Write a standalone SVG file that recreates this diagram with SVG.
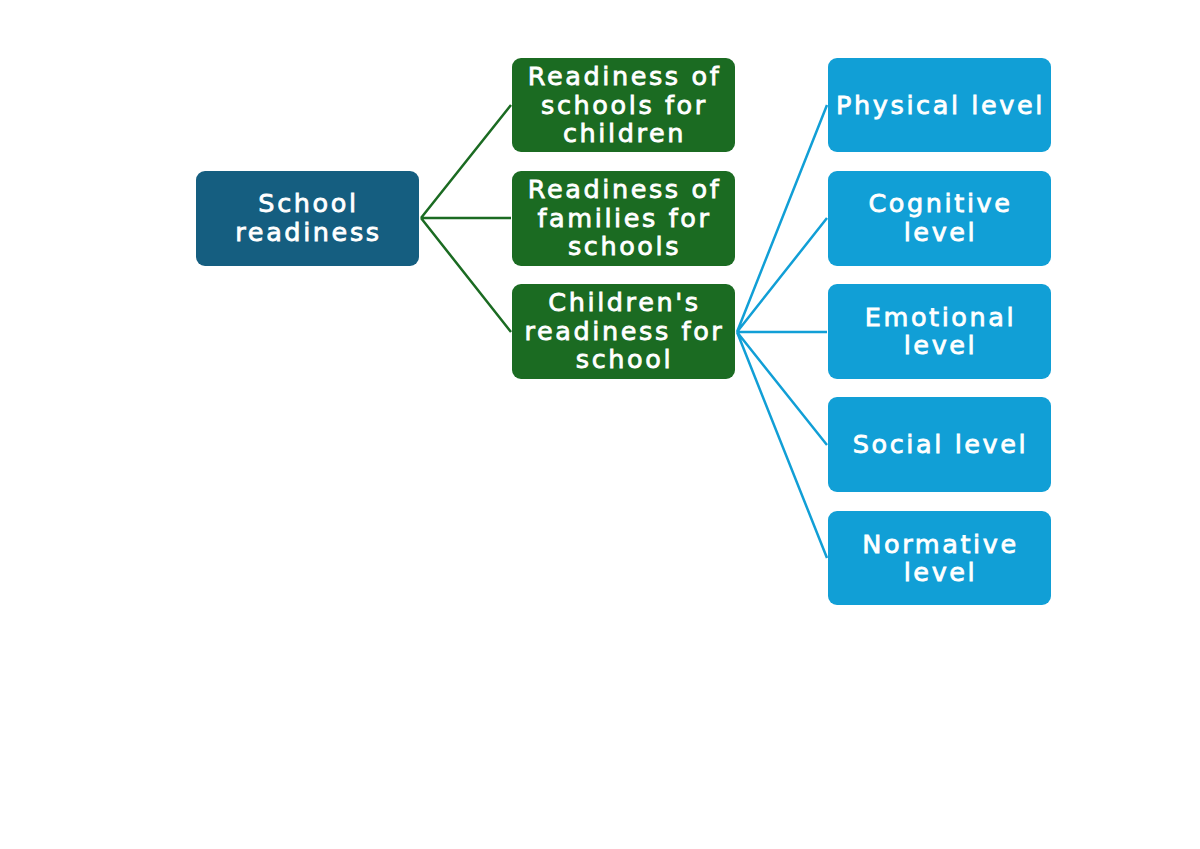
<svg xmlns="http://www.w3.org/2000/svg" width="1200" height="849" viewBox="0 0 1200 849">
<style>
.t{font-family:"DejaVu Sans",sans-serif;font-size:25.5px;fill:#fff;stroke:#fff;stroke-width:0.8;text-anchor:middle;letter-spacing:2.6px}
.g{fill:#1b6b22}
.b{fill:#119fd6}
.cg{stroke:#1b6b22;stroke-width:2.5;fill:none}
.cb{stroke:#119fd6;stroke-width:2.5;fill:none}
</style>
<rect width="1200" height="849" fill="#fff"/>
<g id="connectors">
<path class="cg" d="M421 218L511 105M421 218H511M421 218L511 332"/>
<path class="cb" d="M737 332L827 105M737 332L827 218M737 332H827M737 332L827 445M737 332L827 558"/>
</g>
<g id="n-school"><rect x="196" y="171" width="223" height="95" rx="9" fill="#155e80"/><text class="t" x="308.5" y="212">School</text><text class="t" x="308.5" y="241">readiness</text></g>
<g id="n-schools"><rect class="g" x="512" y="58" width="223" height="94" rx="9"/><text class="t" x="624.5" y="85">Readiness of</text><text class="t" x="624.5" y="114">schools for</text><text class="t" x="624.5" y="142">children</text></g>
<g id="n-families"><rect class="g" x="512" y="171" width="223" height="95" rx="9"/><text class="t" x="624.5" y="198">Readiness of</text><text class="t" x="624.5" y="227">families for</text><text class="t" x="624.5" y="255">schools</text></g>
<g id="n-children"><rect class="g" x="512" y="284" width="223" height="95" rx="9"/><text class="t" x="624.5" y="311">Children's</text><text class="t" x="624.5" y="340">readiness for</text><text class="t" x="624.5" y="368">school</text></g>
<g id="n-physical"><rect class="b" x="828" y="58" width="223" height="94" rx="9"/><text class="t" x="940.5" y="114">Physical level</text></g>
<g id="n-cognitive"><rect class="b" x="828" y="171" width="223" height="95" rx="9"/><text class="t" x="940.5" y="212">Cognitive</text><text class="t" x="940.5" y="241">level</text></g>
<g id="n-emotional"><rect class="b" x="828" y="284" width="223" height="95" rx="9"/><text class="t" x="940.5" y="326">Emotional</text><text class="t" x="940.5" y="354">level</text></g>
<g id="n-social"><rect class="b" x="828" y="397" width="223" height="95" rx="9"/><text class="t" x="940.5" y="453">Social level</text></g>
<g id="n-normative"><rect class="b" x="828" y="511" width="223" height="94" rx="9"/><text class="t" x="940.5" y="553">Normative</text><text class="t" x="940.5" y="581">level</text></g>
</svg>
